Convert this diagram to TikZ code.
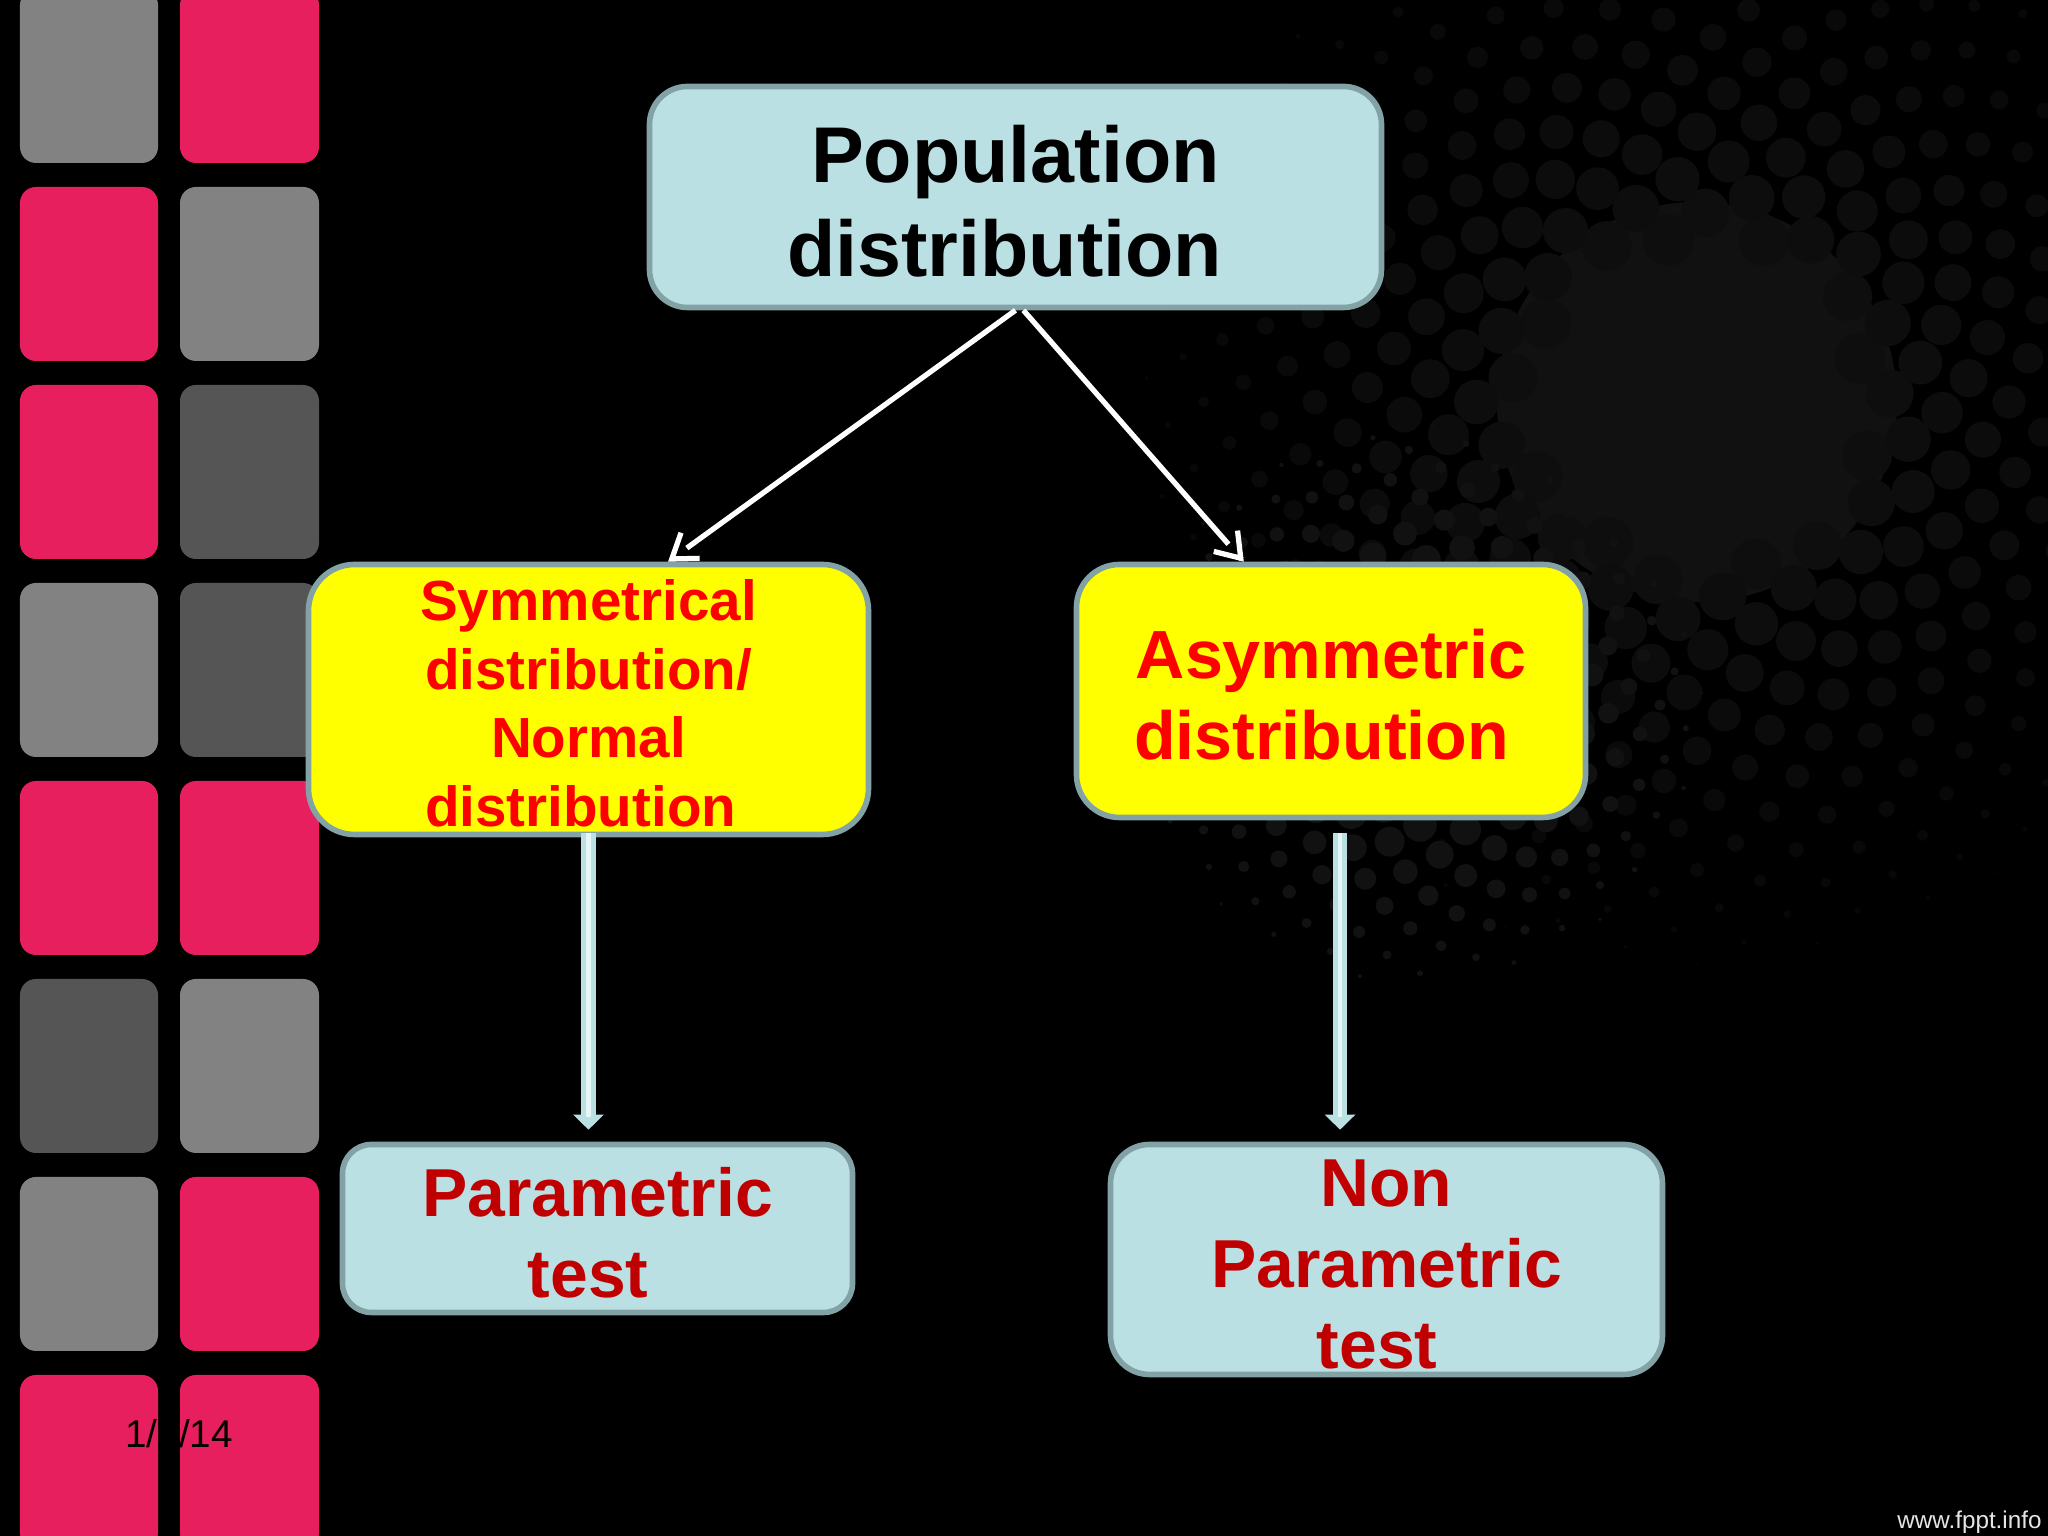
\documentclass[tikz,border=0pt]{standalone}
\usepackage{fontspec}
\setmainfont{Liberation Sans}
\usetikzlibrary{arrows.meta,calc}
\definecolor{tilepink}{HTML}{E81F5F}
\definecolor{tilegray}{HTML}{828282}
\definecolor{tiledark}{HTML}{555555}
\definecolor{dotgray}{HTML}{111111}
\definecolor{boxteal}{HTML}{BAE0E3}
\definecolor{boxedge}{HTML}{83A2A5}
\definecolor{boxyellow}{HTML}{FFFF00}
\definecolor{darkred}{HTML}{C00000}
\definecolor{arrowstripe}{HTML}{E6F6F6}
\tikzset{
    flowbox/.style={draw=boxedge, line width=1.6pt, inner sep=0pt, align=center},
    tealbox/.style={flowbox, fill=boxteal},
    yellowbox/.style={flowbox, fill=boxyellow, text=red},
    thinarrow/.style={draw=white, line width=1.5pt, shorten >=6.6pt},
    thinhead/.style={draw=white, line width=1.5pt, -{Straight Barb[length=6.5pt, width=9pt]}},
    thickarrow/.style={draw=boxteal, line width=4pt, -{Triangle[length=4.3pt, width=8.5pt]}, shorten >=3.4pt},
    stripe/.style={draw=arrowstripe, line width=1.2pt, shorten >=7pt}
}
\newcommand{\tsp}{\kern.278em}
\newcommand{\tgap}{\rule{0pt}{\dimexpr.73em+2.2pt\relax}}
\begin{document}
\begin{tikzpicture}
        \useasboundingbox (0,0) rectangle (20.48,15.36);
        \fill [black] (0,0) rectangle (20.48,15.36);
        % halftone dots behind the boxes
        \fill [dotgray] (16.97,11.34) circle (2.0);
        \foreach \i [evaluate=\i as \rad using {0.26*sqrt(\i)}, evaluate=\i as \ang using {10*mod(mod(\i,144)*13.75,36)}, evaluate=\i as \size using {0.36*(1-0.26*sqrt(\i)/5.8)}, evaluate=\i as \fade using {100-11*sqrt(\i)*0.26}] in {40,...,480} {
            \fill [dotgray!\fade!black] (16.97,11.34) ++(\ang:\rad) circle (\size);
        }
        \foreach \i [evaluate=\i as \rad using {0.2*sqrt(\i)}, evaluate=\i as \ang using {10*mod(mod(\i,144)*13.75,36)}, evaluate=\i as \size using {0.28*(1-0.2*sqrt(\i)/3)}] in {1,...,200} {
            \fill [dotgray] (14.2,8.31) ++(\ang:\rad) circle (\size);
        }
        % tiles on the left
        \foreach \n/\tileA/\tileB in {0/tilegray/tilepink, 1/tilepink/tilegray, 2/tilepink/tiledark, 3/tilegray/tiledark, 4/tilepink/tilepink, 5/tiledark/tilegray, 6/tilegray/tilepink, 7/tilepink/tilepink} {
            \fill [\tileA, rounded corners=0.16cm] (0.2,13.73-1.98*\n) rectangle (1.58,15.47-1.98*\n);
            \fill [\tileB, rounded corners=0.16cm] (1.8,13.73-1.98*\n) rectangle (3.19,15.47-1.98*\n);
        }
        \node (date) [anchor=west, font=\fontsize{11}{13}\selectfont, text=black] at (1.13,1.02) {1/\hphantom{1}/14};
        \node (site) [anchor=east, font=\fontsize{6.9}{8}\selectfont, text=white!90!black] at (20.54,0.14) {www.fppt.info};
        % boxes
        \node (population) [tealbox, rounded corners=0.38cm, minimum width=7.32cm, minimum height=2.21cm, font=\fontsize{22.5}{26.8}\selectfont\bfseries, text=black] at (10.155,13.39) {\tgap Population\\distribution\tsp};
        \node (symmetric) [yellowbox, rounded corners=0.46cm, minimum width=5.6cm, minimum height=2.7cm, font=\fontsize{16.1}{19.5}\selectfont\bfseries] at (5.885,8.365) {\tgap Symmetrical\\distribution/\\Normal\\distribution\tsp};
        \node (asymmetric) [yellowbox, rounded corners=0.43cm, minimum width=5.09cm, minimum height=2.53cm, font=\fontsize{19.4}{23}\selectfont\bfseries] at (13.31,8.45) {\tgap Asymmetric\\distribution\tsp};
        \node (parametric) [tealbox, rounded corners=0.29cm, minimum width=5.1cm, minimum height=1.68cm, font=\fontsize{19.3}{23}\selectfont\bfseries, text=darkred] at (5.975,3.075) {\tgap Parametric\\test\tsp};
        \node (nonparametric) [tealbox, rounded corners=0.39cm, minimum width=5.52cm, minimum height=2.3cm, font=\fontsize{19.3}{23}\selectfont\bfseries, text=darkred] at (13.865,2.765) {\tgap Non\\Parametric\\test\tsp};
        % connectors
        \draw [thinarrow] (population.south) -- (symmetric.60);
        \draw [thinhead] ($(population.south)!0.99!(symmetric.60)$) -- (symmetric.60);
        \draw [thinarrow] (population.274) -- (asymmetric.124);
        \draw [thinhead] ($(population.274)!0.99!(asymmetric.124)$) -- (asymmetric.124);
        \draw [thickarrow, shorten <=-1.1pt] (symmetric.south) -- (symmetric.south |- parametric.north);
        \draw [stripe, shorten <=-1.1pt] (symmetric.south) -- (symmetric.south |- parametric.north);
        \draw [thickarrow, shorten <=3.7pt] (asymmetric.274) -- (asymmetric.274 |- nonparametric.north);
        \draw [stripe, shorten <=3.7pt] (asymmetric.274) -- (asymmetric.274 |- nonparametric.north);
    \end{tikzpicture}
\end{document}
